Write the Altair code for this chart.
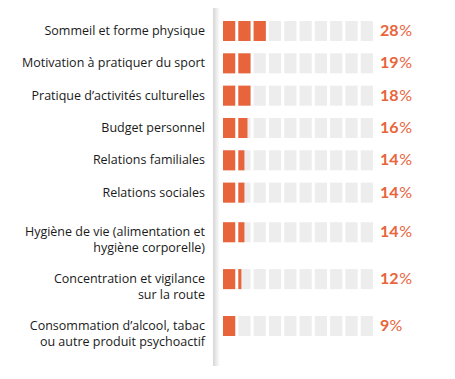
import altair as alt
import pandas as pd

labels = [
    "Sommeil et forme physique",
    "Motivation à pratiquer du sport",
    "Pratique d’activités culturelles",
    "Budget personnel",
    "Relations familiales",
    "Relations sociales",
    "Hygiène de vie (alimentation et\nhygiène corporelle)",
    "Concentration et vigilance\nsur la route",
    "Consommation d’alcool, tabac\nou autre produit psychoactif",
]
values = [28, 19, 18, 16, 14, 14, 14, 12, 9]

ORANGE = "#E8643A"
GREY = "#EDEDED"
SQ = 0.8      # square width in square units (pitch = 1)
HALF = 0.31   # half square height in slot units
DIGIT = 9.6   # px per bold digit

rows = []
acc = 0.0
for lab, v in zip(labels, values):
    slot = 1.0 if "\n" not in lab else 1.45
    c = acc + slot / 2
    acc += slot
    rows.append({"label": lab, "value": v, "num": str(v), "pc": "%",
                 "off": len(str(v)) * DIGIT + 4, "c": c,
                 "y0": c - HALF, "y1": c + HALF})
rows_df = pd.DataFrame(rows)
first_c, last_c = rows[0]["c"], rows[-1]["c"]

sq = []
for r in rows:
    end = r["value"] / 10.0
    for i in range(10):
        fe = min(i + SQ, end)
        sq.append({"label": r["label"], "x0": i, "x1": i + SQ,
                   "xo1": fe if fe > i else i, "has": fe > i,
                   "y0": r["y0"], "y1": r["y1"]})
sq_df = pd.DataFrame(sq)

xs = alt.Scale(domain=[0, 10], range=[215, 368])
ys = alt.Scale(domain=[first_c, last_c], range=[23, 318])

grey = alt.Chart(sq_df).mark_rect(color=GREY).encode(
    x=alt.X("x0:Q", scale=xs, axis=None), x2="x1:Q",
    y=alt.Y("y0:Q", scale=ys, axis=None), y2="y1:Q")

orange = alt.Chart(sq_df).transform_filter("datum.has").mark_rect(color=ORANGE).encode(
    x=alt.X("x0:Q", scale=xs, axis=None), x2="xo1:Q",
    y=alt.Y("y0:Q", scale=ys, axis=None), y2="y1:Q")

num = alt.Chart(rows_df).mark_text(
    align="left", baseline="middle", dx=4, font="Lato", fontSize=16,
    fontWeight="bold", color=ORANGE).encode(
    x=alt.value(368), y=alt.Y("c:Q", scale=ys, axis=None), text="num:N")

pc = alt.Chart(rows_df).mark_text(
    align="left", baseline="middle", font="Lato", fontSize=16,
    fontWeight="normal", color=ORANGE).encode(
    x=alt.X("off:Q", scale=alt.Scale(domain=[0, 100], range=[368, 468]), axis=None),
    y=alt.Y("c:Q", scale=ys, axis=None), text="pc:N")

lab = alt.Chart(rows_df).mark_text(
    align="right", baseline="middle", font="Open Sans", fontSize=12.5,
    color="#1a1a1a", lineBreak="\n", lineHeight=16).encode(
    x=alt.value(197), y=alt.Y("c:Q", scale=ys, axis=None), text="label:N")

shadow = alt.Chart(rows_df.head(1)).mark_rect(
    color=alt.LinearGradient(gradient="linear", x1=0, x2=1, y1=0, y2=0,
                             stops=[alt.GradientStop(color="#d6d6d6", offset=0),
                                    alt.GradientStop(color="#ffffff", offset=1)])
).encode(x=alt.value(205), x2=alt.value(212), y=alt.value(0), y2=alt.value(358))

chart = alt.layer(shadow, grey, orange, num, pc, lab).resolve_scale(x="independent").properties(
    width=439, height=363, padding=0,
    autosize=alt.AutoSizeParams(type="none"),
).configure_view(stroke=None)

chart.save("out.html", embed_options={"renderer": "svg", "actions": False})
